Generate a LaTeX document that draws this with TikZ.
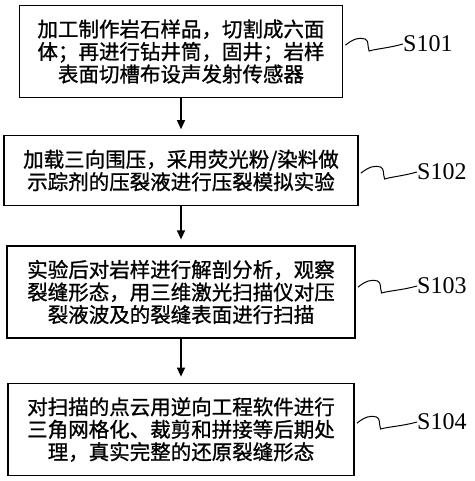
\documentclass[tikz,border=0pt]{standalone}
\usepackage{fontspec}
\setmainfont{Liberation Serif}
\newfontfamily\cjk[FakeBold=1]{Noto Sans CJK SC}
\usetikzlibrary{arrows.meta}

\begin{document}
\begin{tikzpicture}[x=1pt, y=-1pt,
  stepbox/.style={draw, line width=1.2pt, align=center, inner xsep=6pt, inner ysep=14pt,
    font=\cjk\fontsize{20.5}{22.5}\selectfont},
  flow/.style={line width=1.3pt, -{Triangle[length=9pt, width=8pt]}, shorten >=6pt},
  tag/.style={anchor=west, inner sep=0pt, font=\fontsize{24}{24}\selectfont},
  squig/.style={line width=1pt, shorten <=3pt}]
\useasboundingbox (0,0) rectangle (474,481) ;

\node[stepbox, minimum width=323pt] at (181,51.5) (step1) {加工制作岩石样品，切割成六面\\体；再进行钻井筒，固井；岩样\\表面切槽布设声发射传感器} ;
\node[stepbox, minimum width=354pt] at (181,170.5) (step2) {加载三向围压，采用荧光粉/染料做\\示踪剂的压裂液进行压裂模拟实验} ;
\node[stepbox, minimum width=348pt] at (181,292) (step3) {实验后对岩样进行解剖分析，观察\\裂缝形态，用三维激光扫描仪对压\\裂液波及的裂缝表面进行扫描} ;
\node[stepbox, minimum width=346pt] at (181,429.5) (step4) {对扫描的点云用逆向工程软件进行\\三角网格化、裁剪和拼接等后期处\\理，真实完整的还原裂缝形态} ;

\node[tag] at (403,44) (s101) {S101} ;
\node[tag] at (417,172) (s102) {S102} ;
\node[tag] at (417,286) (s103) {S103} ;
\node[tag] at (417,422) (s104) {S104} ;

\draw[flow] (step1) -- (step2) ;
\draw[flow] (step2) -- (step3) ;
\draw[flow] (step3) -- (step4) ;

\draw[squig] ([yshift=-3pt]step1.east |- s101.west) .. controls +(10,-8) and +(-6,-2) .. ++(22,-8) .. controls +(4,2) and +(-2,-6) .. ++(4,12) .. controls +(6,-2) and +(-14,4) .. (s101.west) ;
\draw[squig] ([yshift=-3pt]step2.east |- s102.west) .. controls +(10,-8) and +(-6,-2) .. ++(22,-8) .. controls +(4,2) and +(-2,-6) .. ++(4,12) .. controls +(6,-2) and +(-14,4) .. (s102.west) ;
\draw[squig] ([yshift=-3pt]step3.east |- s103.west) .. controls +(10,-8) and +(-6,-2) .. ++(22,-8) .. controls +(4,2) and +(-2,-6) .. ++(4,12) .. controls +(6,-2) and +(-14,4) .. (s103.west) ;
\draw[squig] ([yshift=-3pt]step4.east |- s104.west) .. controls +(10,-8) and +(-6,-2) .. ++(22,-8) .. controls +(4,2) and +(-2,-6) .. ++(4,12) .. controls +(6,-2) and +(-14,4) .. (s104.west) ;
\end{tikzpicture}
\end{document}
